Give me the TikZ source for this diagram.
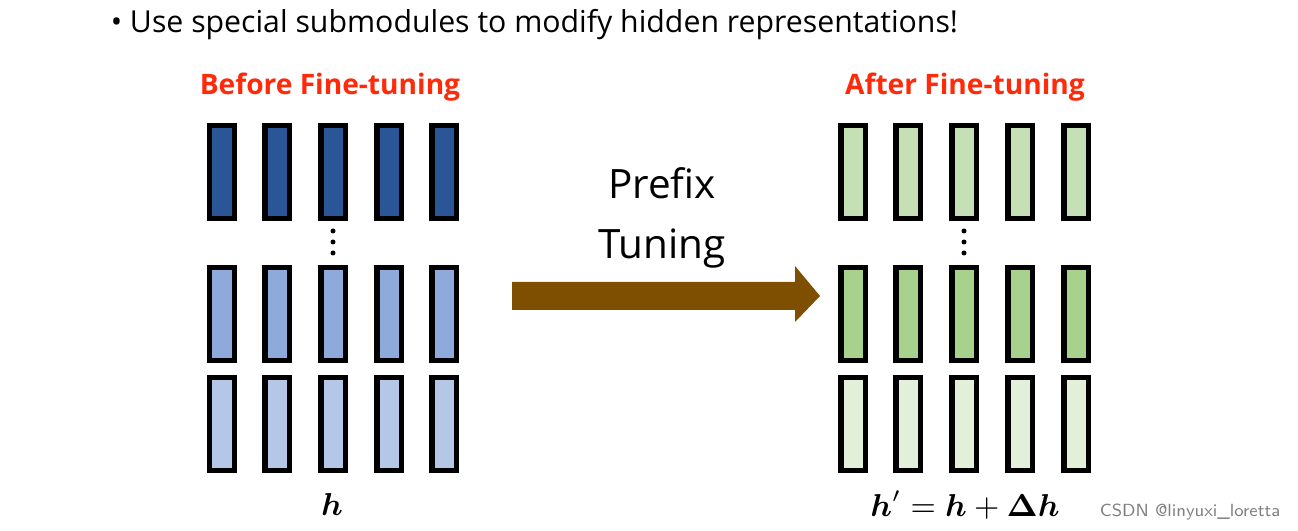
\documentclass[tikz,border=0pt]{standalone}
\usepackage{fontspec}
\usepackage{amsmath,bm}
\setmainfont{Open Sans}
\usetikzlibrary{positioning}
\definecolor{deepblue}{HTML}{2A5597}
\definecolor{midblue}{HTML}{8EAADB}
\definecolor{paleblue}{HTML}{B4C7E7}
\definecolor{deepgreen}{HTML}{A9D18E}
\definecolor{midgreen}{HTML}{C5E0B4}
\definecolor{palegreen}{HTML}{E2F0D9}
\definecolor{shaft}{HTML}{7F4F00}
\definecolor{titlered}{HTML}{FF2A0A}

\begin{document}
\begin{tikzpicture}[x=0.01cm,y=-0.01cm,
	bar/.style={draw=black, line width=5.5pt*0.2845, minimum width=0.245cm, minimum height=0.925cm, inner sep=0pt},
	head/.style={text=titlered, font=\fontsize{8}{9}\selectfont\bfseries},
	dotsep/.style={circle, fill=black, inner sep=0pt, minimum size=0.05cm}]
	\useasboundingbox (0,0) rectangle (1298,531);
	\fontsize{8.6}{10}\selectfont

	\node[anchor=west] (bullet) at (100,25) {\textbullet\ Use special submodules to modify hidden representations!};
	\node[head] (before) at (330,87) {Before Fine-tuning};
	\node[head] (after) at (965,87) {After Fine-tuning};

	% left stack
	\foreach \x [count=\i] in {222,277,333,389,444}{
		\node[bar, fill=deepblue] (lt\i) at (\x,172) {};
		\node[bar, fill=midblue] (lm\i) at (\x,314) {};
		\node[bar, fill=paleblue] (lb\i) at (\x,424) {};
	}
	% right stack
	\foreach \x [count=\i] in {853,908,964,1020,1076}{
		\node[bar, fill=midgreen] (rt\i) at (\x,172) {};
		\node[bar, fill=deepgreen] (rm\i) at (\x,314) {};
		\node[bar, fill=palegreen] (rb\i) at (\x,424) {};
	}
	\foreach \y in {231,242,253}{
		\node[dotsep] at (333,\y) {};
		\node[dotsep] at (964,\y) {};
	}

	% arrow
	\coordinate (tail) at (512,296);
	\coordinate (tip) at (820,296);
	\fill[shaft] (512,282) -- (795,282) -- (795,266) -- (tip) -- (795,322) -- (795,310) -- (512,310) -- cycle;
	\node[font=\fontsize{11.5}{17}\selectfont, align=center] (prefix) at (662,218) {Prefix\\Tuning};

	\node[font=\fontsize{9}{10}\selectfont] (hleft) at (332,505) {$\bm{h}$};
	\node[font=\fontsize{9}{10}\selectfont] (hright) at (965,505) {$\bm{h}'=\bm{h}+\bm{\Delta}\bm{h}$};
	\node[text=gray, font=\fontsize{5}{6}\selectfont\sffamily] (mark) at (1190,512) {CSDN @linyuxi\_loretta};
\end{tikzpicture}
\end{document}
